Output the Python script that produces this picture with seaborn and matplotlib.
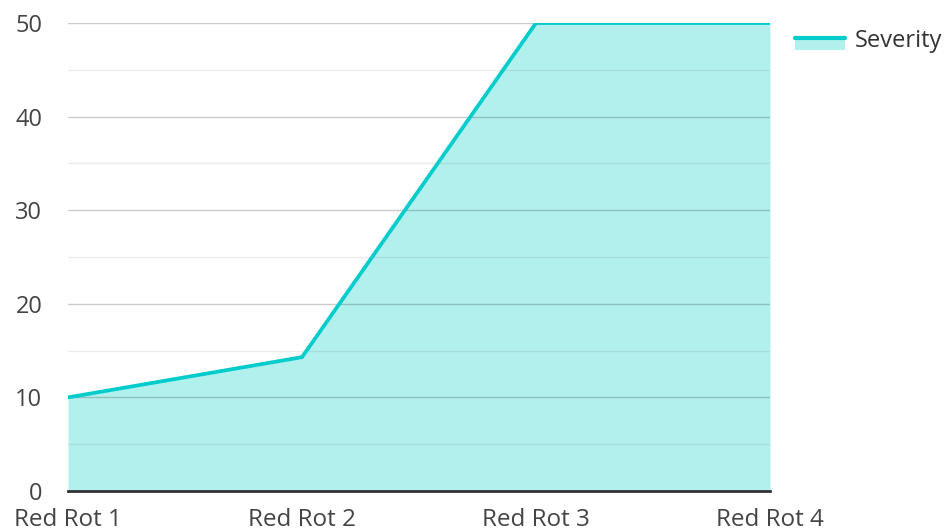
import matplotlib
matplotlib.use("Agg")
import matplotlib.pyplot as plt
import seaborn as sns
import pandas as pd
from matplotlib.patches import Rectangle
from matplotlib.lines import Line2D
from matplotlib.legend_handler import HandlerBase

categories = ["Red Rot 1", "Red Rot 2", "Red Rot 3", "Red Rot 4"]
severity = [10, 14.3, 50, 50]
y_ticks = [0, 10, 20, 30, 40, 50]

sns.set_theme(style="white")
plt.rcParams['font.family'] = ['Open Sans', 'DejaVu Sans']

df = pd.DataFrame({"pos": range(len(categories)), "Severity": severity})

fig = plt.figure(figsize=(9.49, 5.32), dpi=100)
ax = fig.add_axes([68/949, 41/532, 702/949, 468/532])

line_color = "#00CCCC"
fill_color = "#B2F0EE"

ax.fill_between(df["pos"], 0, df["Severity"], color=fill_color, linewidth=0, zorder=1)
sns.lineplot(data=df, x="pos", y="Severity", ax=ax, color=line_color, linewidth=2.7, zorder=3)

ax.set_xlim(0, len(categories) - 1)
ax.set_ylim(0, 50)
ax.set_yticks(y_ticks)
ax.set_yticks([5, 15, 25, 35, 45], minor=True)
ax.set_xticks(range(len(categories)))
ax.set_xticklabels(categories)
ax.set_xlabel("")
ax.set_ylabel("")

ax.grid(axis="y", which="major", color="black", alpha=0.2, linewidth=1, zorder=2)
ax.grid(axis="y", which="minor", color="black", alpha=0.08, linewidth=1, zorder=2)
ax.set_axisbelow(False)

for s in ["top", "right", "left"]:
    ax.spines[s].set_visible(False)
ax.spines["bottom"].set_color("#333333")
ax.spines["bottom"].set_linewidth(2)
ax.spines["bottom"].set_zorder(4)

ax.tick_params(axis="both", which="both", length=0, colors="#444444")
ax.tick_params(axis="y", pad=18.5, labelsize=17)
ax.tick_params(axis="x", pad=12, labelsize=17.5)


class AreaHandler(HandlerBase):
    def create_artists(self, legend, orig_handle, xdescent, ydescent, width, height, fontsize, trans):
        top = height * 0.55
        bot = top - 8.6
        rect = Rectangle((-xdescent, bot - ydescent), width, top - bot, facecolor=fill_color,
                         edgecolor="none", transform=trans)
        ln = Line2D([-xdescent, width - xdescent], [top - ydescent, top - ydescent],
                    color=line_color, linewidth=3, transform=trans)
        return [rect, ln]


dummy = Rectangle((0, 0), 1, 1)
leg = fig.legend([dummy], ["Severity"], handler_map={Rectangle: AreaHandler()},
                 loc="upper left", bbox_to_anchor=(774/949, 1 - 8/532), frameon=False,
                 fontsize=17, handlelength=2.12, handleheight=0.7, handletextpad=0.42)
for t in leg.get_texts():
    t.set_color("#333333")

fig.savefig("out.png", dpi=100)
